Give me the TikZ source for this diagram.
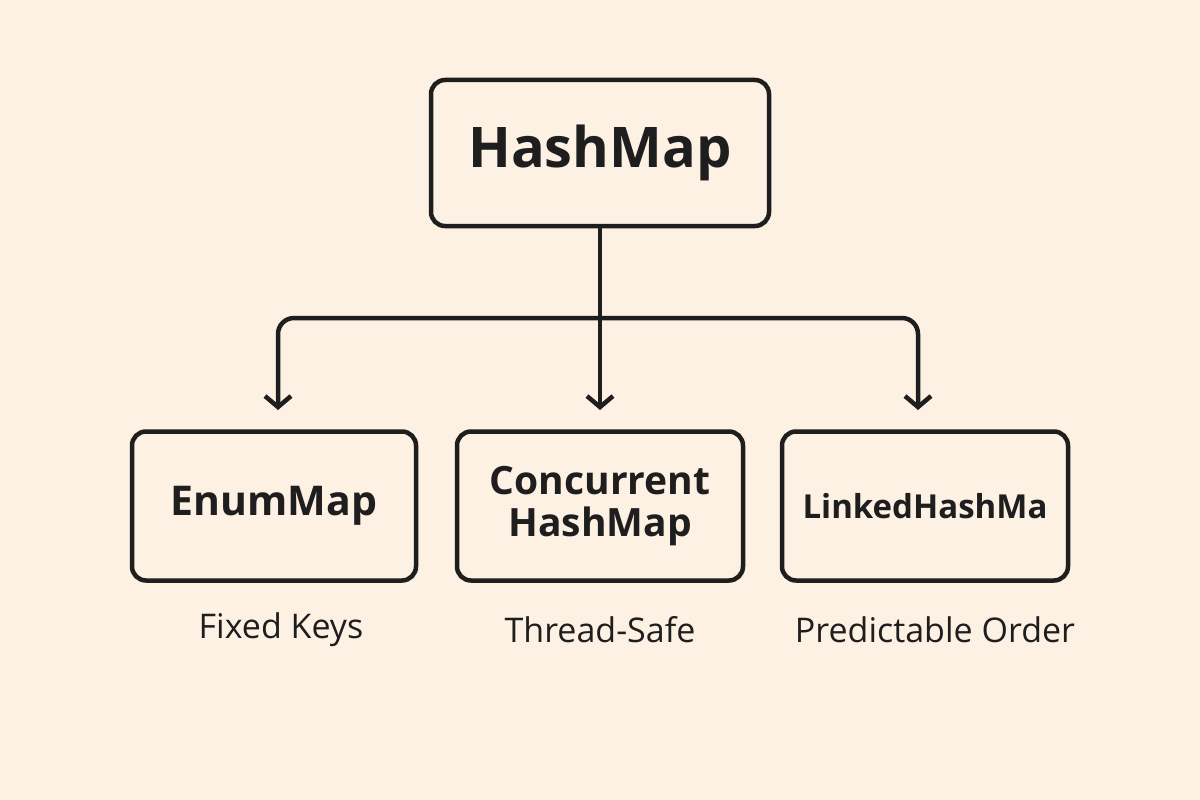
\documentclass[tikz,border=0pt]{standalone}
\usepackage{fontspec}
\setmainfont{Open Sans}
\usetikzlibrary{arrows.meta}
\definecolor{bg}{HTML}{FDF1E4}
\definecolor{ink}{HTML}{1E1E1E}
\begin{document}
\begin{tikzpicture}[x=1pt,y=-1pt,
  box/.style={draw=ink,line width=4.5pt,rounded corners=14pt,fill=bg,align=center,text=ink,font=\bfseries},
  lab/.style={text=ink,font=\fontsize{34}{38}\selectfont},
  conn/.style={draw=ink,line width=4.5pt,rounded corners=16pt,-{Straight Barb[length=11pt,width=26pt,line width=4.5pt]}}]
\fill[bg] (0,0) rectangle (1200,800);
\useasboundingbox (0,0) rectangle (1200,800);
\node[box,minimum width=338pt,minimum height=146pt,font=\bfseries\fontsize{56}{64}\selectfont] (h) at (600,153) {HashMap};
\node[box,minimum width=284pt,minimum height=149pt,font=\bfseries\fontsize{41}{48}\selectfont] (e) at (274,506) {EnumMap};
\node[box,minimum width=286pt,minimum height=149pt,font=\bfseries\fontsize{39}{42}\selectfont] (c) at (600,506) {Concurrent\\HashMap};
\node[box,minimum width=286pt,minimum height=149pt,font=\bfseries\fontsize{33}{38}\selectfont] (l) at (925,506) {LinkedHashMa};
\coordinate (j) at (600,318);
\coordinate (el) at (278,410);
\coordinate (cl) at (600,410);
\coordinate (ll) at (918,410);
\draw[conn] (h.south) -- (cl);
\draw[conn] (j) -| (el);
\draw[conn] (j) -| (ll);
\node[lab] (le) at (281,630) {Fixed Keys};
\node[lab] (lc) at (600,630) {Thread-Safe};
\node[lab] (lll) at (935,630) {Predictable Order};
\end{tikzpicture}
\end{document}
